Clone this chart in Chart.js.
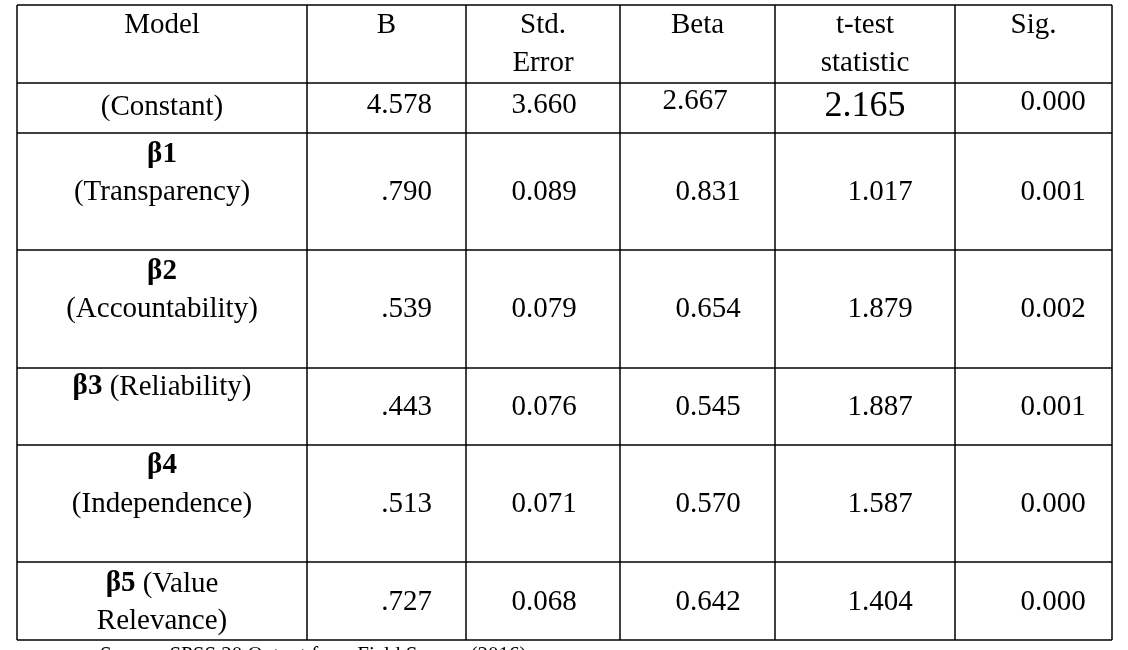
<!DOCTYPE html>
<html><head><meta charset="utf-8">
<script src="https://cdn.jsdelivr.net/npm/chart.js@4/dist/chart.umd.min.js"></script>
<style>html,body{margin:0;padding:0;background:#fff;overflow:hidden}#wrap{width:1128px;height:650px}</style>
</head><body><div id="wrap"><canvas id="c"></canvas></div>
<script>
const headers = [["Model"],["B"],["Std.","Error"],["Beta"],["t-test","statistic"],["Sig."]];
const rowLabels = [[["","(Constant)"]],[["β1",""],["","(Transparency)"]],[["β2",""],["","(Accountability)"]],[["β3"," (Reliability)"]],[["β4",""],["","(Independence)"]],[["β5"," (Value"],["","Relevance)"]]];
const B = [4.578,0.790,0.539,0.443,0.513,0.727];
const stdError = ["3.660","0.089","0.079","0.076","0.071","0.068"];
const beta = ["2.667","0.831","0.654","0.545","0.570","0.642"];
const tStat = ["2.165","1.017","1.879","1.887","1.587","1.404"];
const sig = ["0.000","0.001","0.002","0.001","0.000","0.000"];
const colEdges = [17,307,466,620,775,955,1112];
const rowEdges = [5,83,133,250,368,445,562,640];
const footer = "Source: SPSS 20 Output from Field Survey (2016)";

const F = '"Liberation Serif","Times New Roman",serif';
const tablePlugin = {
  id:'table',
  afterDraw(chart){
    const ctx = chart.ctx, x = chart.scales.x, y = chart.scales.y;
    const X = v=>x.getPixelForValue(v), Y = v=>y.getPixelForValue(v);
    ctx.save();
    ctx.strokeStyle='#000'; ctx.lineWidth=1.5;
    rowEdges.forEach(r=>{ctx.beginPath();ctx.moveTo(X(colEdges[0]),Y(r));ctx.lineTo(X(colEdges[6]),Y(r));ctx.stroke();});
    colEdges.forEach(c=>{ctx.beginPath();ctx.moveTo(X(c),Y(rowEdges[0]));ctx.lineTo(X(c),Y(rowEdges[7]));ctx.stroke();});
    ctx.fillStyle='#000'; ctx.textBaseline='middle';
    const font=(s,b)=>(b?'bold ':'')+s+'px '+F;
    // headers
    const hy=[[25],[25],[25,63],[25],[25,63],[25]];
    headers.forEach((h,i)=>{
      const cx=(colEdges[i]+colEdges[i+1])/2;
      ctx.font=font(29); ctx.textAlign='center';
      h.forEach((t,k)=>ctx.fillText(t,X(cx),Y(hy[i][k])));
    });
    // row labels
    const ly=[[107],[155,192],[272,309],[387],[466,504],[584,621]];
    rowLabels.forEach((lines,r)=>{
      lines.forEach((ln,k)=>{
        const cx=(colEdges[0]+colEdges[1])/2;
        ctx.font=font(29,true); const w1=ctx.measureText(ln[0]).width;
        ctx.font=font(29); const w2=ctx.measureText(ln[1]).width;
        let sx=X(cx)-(w1+w2)/2;
        ctx.textAlign='left';
        ctx.font=font(29,true); ctx.fillText(ln[0],sx,Y(ly[r][k]));
        ctx.font=font(29); ctx.fillText(ln[1],sx+w1,Y(ly[r][k]));
      });
    });
    const vy=[105,192,309,407,504,602];
    const fmtB=v=>r=> r===0? v.toFixed(3) : v.toFixed(3).replace(/^0/,'');
    for(let r=0;r<6;r++){
      const yy=Y(vy[r]);
      ctx.font=font(29); ctx.textAlign='right';
      ctx.fillText(fmtB(B[r])(r),X(432),yy);
      ctx.textAlign='center';
      ctx.fillText(stdError[r],X(544),yy);
      ctx.fillText(beta[r],X(r===0?695:708),r===0?Y(101):yy);
      ctx.font=font(r===0?36:29);
      ctx.fillText(tStat[r],X(r===0?865:880),r===0?Y(107):yy);
      ctx.font=font(29);
      ctx.fillText(sig[r],X(1053),r===0?Y(102):yy);
    }
    ctx.font=font(21); ctx.textAlign='left';
    ctx.fillText(footer,X(100),Y(655));
    ctx.restore();
  }
};
new Chart(document.getElementById('c'),{
  type:'scatter',
  data:{datasets:[{data:[],pointRadius:0}]},
  options:{responsive:true,maintainAspectRatio:false,animation:false,
    layout:{padding:0},
    plugins:{legend:{display:false},tooltip:{enabled:false}},
    scales:{x:{display:false,min:0,max:1128},y:{display:false,min:0,max:650,reverse:true}}},
  plugins:[tablePlugin]
});
</script></body></html>
